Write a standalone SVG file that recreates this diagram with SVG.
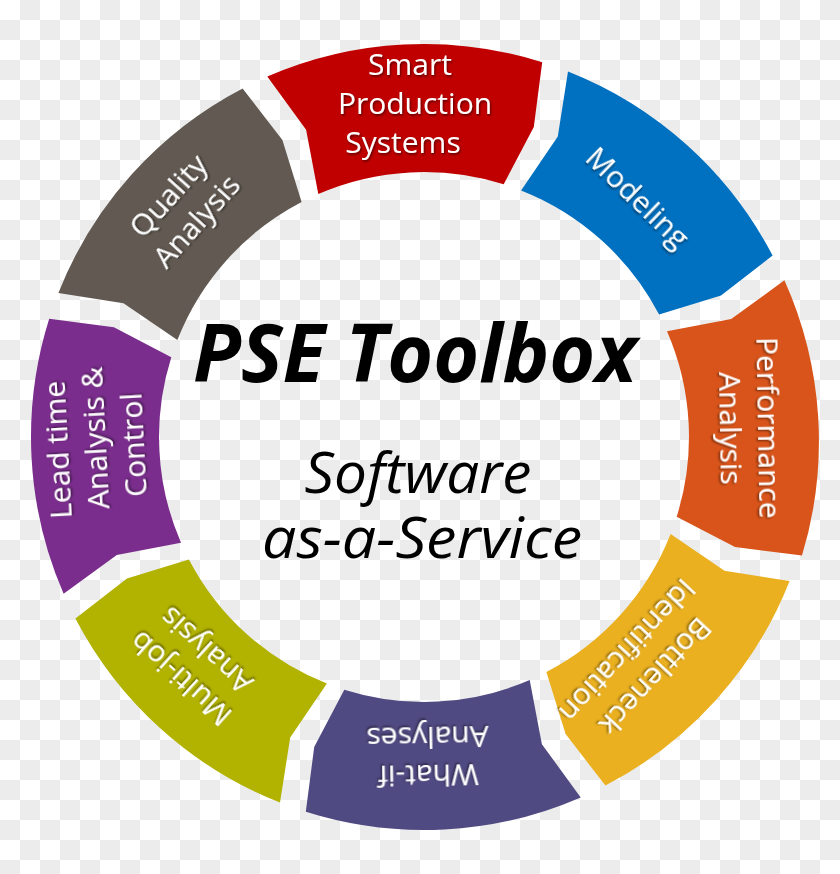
<svg xmlns="http://www.w3.org/2000/svg" width="840" height="874" viewBox="0 0 840 874">
<defs>
<pattern id="cb" width="40" height="40" patternUnits="userSpaceOnUse"><rect width="40" height="40" fill="#ffffff"/><rect x="20" y="0" width="20" height="20" fill="#ececec"/><rect x="0" y="20" width="20" height="20" fill="#ececec"/></pattern>
<filter id="sh" x="-10%" y="-10%" width="120%" height="120%"><feDropShadow dx="1" dy="1.5" stdDeviation="1" flood-color="#000" flood-opacity="0.55"/></filter>
</defs>
<style>
.lbl{font-family:"Open Sans","Noto Sans","DejaVu Sans",sans-serif;font-size:30px;fill:#ffffff;text-anchor:middle;filter:url(#sh)}
.title{font-family:"Open Sans","Noto Sans","DejaVu Sans",sans-serif;font-weight:bold;font-style:italic;font-size:80px;fill:#000;text-anchor:middle}
.sub{font-family:"Open Sans","Noto Sans","DejaVu Sans",sans-serif;font-style:italic;font-size:56px;fill:#000;text-anchor:middle}
</style>
<rect width="840" height="874" fill="url(#cb)"/>
<g id="connectors"></g>
<g id="smart-production">
<path fill="#C00000" d="M267.3,76.6 A393,393 0 0 1 542.2,62.2 L533.8,126.9 L503.7,184.3 A265,265 0 0 0 318.3,194.0 L306.1,129.8 Z"/>
<text class="lbl"><tspan x="410" y="75">Smart</tspan><tspan x="415" y="114">Production</tspan><tspan x="403" y="153">Systems</tspan></text>
</g>
<g id="modeling">
<path fill="#0070C0" d="M568.0,71.4 A393,393 0 0 1 772.6,255.6 L721.0,295.4 L659.1,314.6 A265,265 0 0 0 521.1,190.4 L557.8,136.5 Z"/>
<text class="lbl" transform="translate(638,197) rotate(44)"><tspan x="0" y="11">Modeling</tspan></text>
</g>
<g id="performance">
<path fill="#D9541A" d="M784.4,280.3 A393,393 0 0 1 802,555.5 L735,547 L676.7,516.7 A265,265 0 0 0 667.0,331.3 L731.2,319.1 Z"/>
<text class="lbl" transform="translate(750,428) rotate(89)"><tspan x="0" y="-8">Performance</tspan><tspan x="0" y="30">Analysis</tspan></text>
</g>
<g id="bottleneck">
<path fill="#EAB020" d="M789.6,581.0 A393,393 0 0 1 605.4,785.6 L565.6,734.0 L546.4,672.1 A265,265 0 0 0 670.6,534.1 L724.5,570.8 Z"/>
<text class="lbl" transform="translate(642,664) rotate(133)"><tspan x="0" y="-8">Bottleneck</tspan><tspan x="0" y="30">Identification</tspan></text>
</g>
<g id="what-if">
<path fill="#504A82" d="M580.7,797.4 A393,393 0 0 1 305.8,811.8 L314.2,747.1 L344.3,689.7 A265,265 0 0 0 529.7,680.0 L541.9,744.2 Z"/>
<text class="lbl" transform="translate(428,757) rotate(179)"><tspan x="0" y="-8">What-if</tspan><tspan x="0" y="30">Analyses</tspan></text>
</g>
<g id="multi-job">
<path fill="#B2B200" d="M280.0,802.6 A393,393 0 0 1 75.4,618.4 L127.0,578.6 L188.9,559.4 A265,265 0 0 0 326.9,683.6 L290.2,737.5 Z"/>
<text class="lbl" transform="translate(193,665) rotate(222)"><tspan x="0" y="-8">Multi-job</tspan><tspan x="0" y="30">Analysis</tspan></text>
</g>
<g id="lead-time">
<path fill="#7A2D8C" d="M63.6,593.7 A393,393 0 0 1 49.2,318.8 L113.9,327.2 L171.3,357.3 A265,265 0 0 0 181.0,542.7 L116.8,554.9 Z"/>
<text class="lbl" transform="translate(95,444) rotate(-93)"><tspan x="-4" y="-27">Lead time</tspan><tspan x="6" y="11">Analysis &amp;</tspan><tspan x="-3" y="49">Control</tspan></text>
</g>
<g id="quality">
<path fill="#625A52" d="M58.4,293.0 A393,393 0 0 1 242.6,88.4 L282.4,140.0 L301.6,201.9 A265,265 0 0 0 177.4,339.9 L123.5,303.2 Z"/>
<text class="lbl" transform="translate(182,208) rotate(-48)"><tspan x="0" y="-8">Quality</tspan><tspan x="0" y="30">Analysis</tspan></text>
</g>
<g id="center">
<text class="title" x="415" y="382" textLength="444" lengthAdjust="spacingAndGlyphs">PSE Toolbox</text>
<text class="sub" x="418" y="493" textLength="227" lengthAdjust="spacingAndGlyphs">Software</text>
<text class="sub" x="422" y="558" textLength="320" lengthAdjust="spacingAndGlyphs">as-a-Service</text>
</g>
</svg>
